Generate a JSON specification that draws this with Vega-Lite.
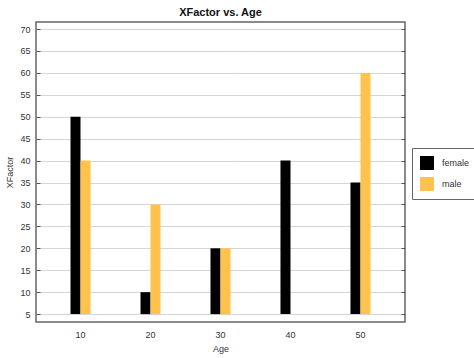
{
  "$schema": "https://vega.github.io/schema/vega-lite/v6.json",
  "autosize": "none",
  "width": 369,
  "height": 300,
  "padding": {"left": 36, "top": 22, "right": 69, "bottom": 36},
  "background": "white",
  "title": {"text": "XFactor vs. Age", "font": "Liberation Sans", "fontSize": 11, "fontWeight": "bold", "color": "#111", "offset": 4},
  "config": {
    "view": {"stroke": "#666", "strokeWidth": 1.5},
    "font": "Liberation Sans"
  },
  "data": {"values": [
    {"Age": "10", "gender": "female", "XFactor": 50},
    {"Age": "10", "gender": "male", "XFactor": 40},
    {"Age": "20", "gender": "female", "XFactor": 10},
    {"Age": "20", "gender": "male", "XFactor": 30},
    {"Age": "30", "gender": "female", "XFactor": 20},
    {"Age": "30", "gender": "male", "XFactor": 20},
    {"Age": "40", "gender": "female", "XFactor": 40},
    {"Age": "50", "gender": "female", "XFactor": 35},
    {"Age": "50", "gender": "male", "XFactor": 60}
  ]},
  "layer": [
    {
      "mark": {"type": "bar", "clip": true},
      "encoding": {
        "x": {"field": "Age", "type": "ordinal", "sort": ["10","20","30","40","50"],
          "scale": {"paddingInner": 0.714, "paddingOuter": 0.493},
          "axis": {"title": "Age", "labelAngle": 0, "ticks": false, "domain": false, "labelFontSize": 9, "labelColor": "#333", "labelPadding": 8, "titleFontSize": 9, "titleFontWeight": "normal", "titleColor": "#333", "titlePadding": 5}},
        "xOffset": {"field": "gender", "type": "nominal", "sort": ["female","male"]},
        "y": {"field": "XFactor", "type": "quantitative",
          "scale": {"domain": [3.2, 71.6], "nice": false, "zero": false},
          "axis": {"title": "XFactor", "values": [5,10,15,20,25,30,35,40,45,50,55,60,65,70], "grid": true, "gridColor": "#aaa", "gridDash": [1, 1], "gridWidth": 1, "domain": false, "tickSize": -4, "tickColor": "#555", "labelFontSize": 9, "labelColor": "#333", "labelPadding": 10, "titleFontSize": 9, "titleFontWeight": "normal", "titleColor": "#333", "titlePadding": 5}},
        "y2": {"datum": 5},
        "color": {"field": "gender", "type": "nominal", "sort": ["female","male"],
          "scale": {"domain": ["female","male"], "range": ["#000000", "#FFC24D"]},
          "legend": {"title": null, "orient": "none", "legendX": 376, "legendY": 126, "symbolType": "square", "symbolSize": 196, "symbolStrokeWidth": 0, "symbolOpacity": 1, "labelFontSize": 9, "labelColor": "#333", "rowPadding": 7, "padding": 8, "strokeColor": "#666", "labelOffset": 8}}
      }
    },
    {
      "mark": {"type": "rule", "opacity": 0},
      "encoding": {
        "y": {"datum": 5, "type": "quantitative", "axis": {"orient": "right", "title": null, "values": [5,10,15,20,25,30,35,40,45,50,55,60,65,70], "labels": false, "grid": false, "domain": false, "tickSize": -4, "tickColor": "#555"}}
      }
    }
  ],
  "resolve": {"scale": {"y": "shared"}, "axis": {"y": "independent"}}
}
